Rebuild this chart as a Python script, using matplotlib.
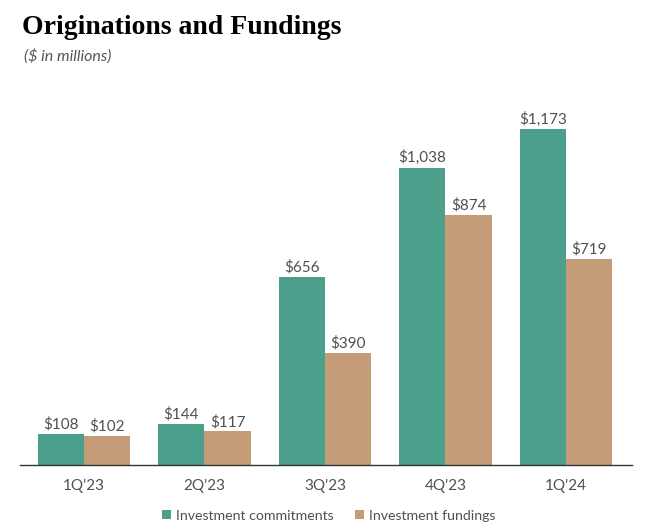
import matplotlib
matplotlib.use('Agg')
import matplotlib.pyplot as plt
import numpy as np

quarters = ["1Q'23", "2Q'23", "3Q'23", "4Q'23", "1Q'24"]
commitments = [108, 144, 656, 1038, 1173]
fundings = [102, 117, 390, 874, 719]

green = '#4b9f8b'
tan = '#c49c77'
txt = '#505050'
lab_font = ['Lato', 'DejaVu Sans']

fig = plt.figure(figsize=(6.48, 5.25), dpi=100)
# axes in figure fraction: left 20px, right 632px, bottom y=465px
ax = fig.add_axes([20 / 648, 60 / 525, 612 / 648, 365 / 525])

x = np.arange(len(quarters))
w = 0.385
b1 = ax.bar(x - w / 2, commitments, w, color=green, label='Investment commitments')
b2 = ax.bar(x + w / 2, fundings, w, color=tan, label='Investment fundings')

for bars, vals in ((b1, commitments), (b2, fundings)):
    for r, v in zip(bars, vals):
        ax.text(r.get_x() + r.get_width() / 2, v + 8, f'${v:,}',
                ha='center', va='bottom', fontsize=11, color=txt,
                family=lab_font)

ax.set_xlim(-0.531, 4.548)
ax.set_ylim(0, 365 / 0.2865)
ax.set_xticks(x)
ax.set_xticklabels(quarters, family=lab_font, fontsize=11, color=txt)
ax.tick_params(axis='x', length=0, pad=10)
ax.set_yticks([])
for s in ('top', 'right', 'left'):
    ax.spines[s].set_visible(False)
ax.spines['bottom'].set_color('#333333')
ax.spines['bottom'].set_linewidth(1.0)

leg = ax.legend(loc='upper center', bbox_to_anchor=(0.505, -0.088), ncol=2,
                frameon=False, handlelength=0.6, handleheight=0.6,
                handletextpad=0.4, columnspacing=1.5,
                prop={'family': lab_font, 'size': 10.2})
for t in leg.get_texts():
    t.set_color(txt)

fig.text(22 / 648, 1 - 27 / 525, 'Originations and Fundings', fontsize=20,
         fontweight='bold', family=['Liberation Serif', 'DejaVu Serif'],
         color='black', va='center', ha='left')
fig.text(24 / 648, 1 - 56 / 525, '($ in millions)', fontsize=11.5,
         style='italic', family=lab_font, color='#555555',
         va='center', ha='left')

fig.savefig('out.png', dpi=100)
